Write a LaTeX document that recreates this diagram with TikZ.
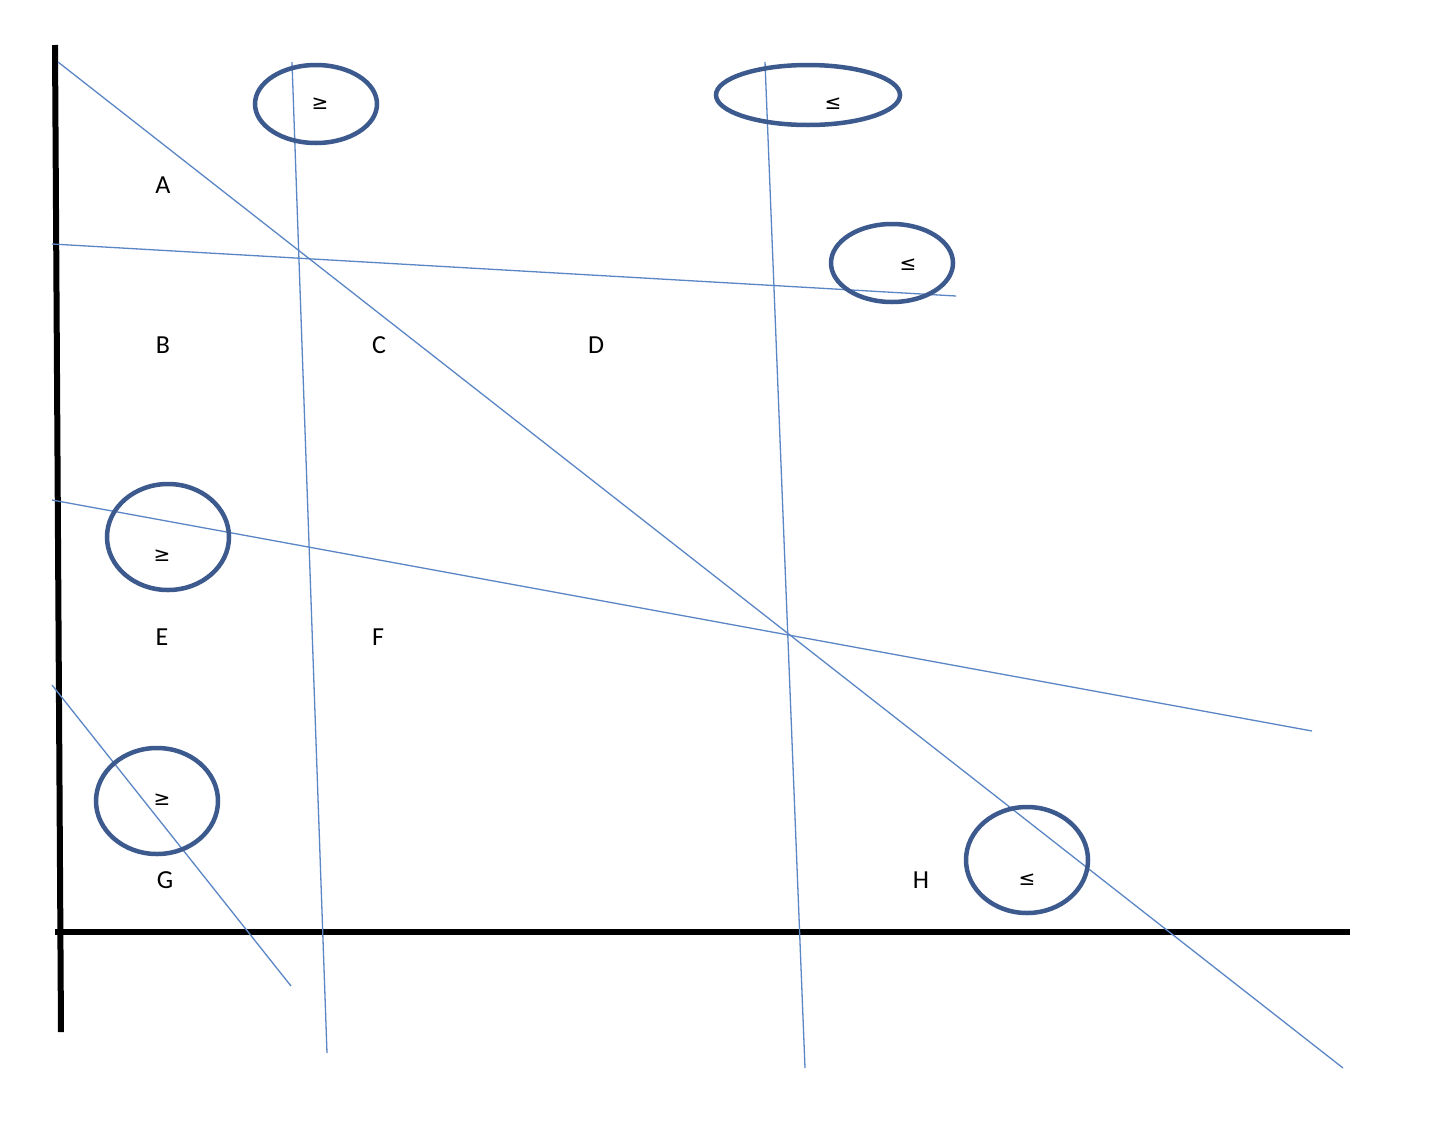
\documentclass[tikz,border=0pt]{standalone}
\usepackage{fontspec}
\setmainfont{Carlito}
\newfontfamily\symf{DejaVu Sans}
\definecolor{ln}{HTML}{5B86C6}
\definecolor{el}{HTML}{3C5A8E}
\tikzset{bl/.style={draw=ln,line width=1.3pt},ax/.style={draw=black,line width=6pt},
ell/.style={draw=el,line width=4.5pt},lab/.style={font=\fontsize{26}{26}\selectfont},sym/.style={font=\symf\fontsize{20}{20}\selectfont}}
\begin{document}
\begin{tikzpicture}[x=1pt,y=-1pt]
\useasboundingbox[fill=white] (0,0) rectangle (1450,1122);
\coordinate (a1) at (55,45); \coordinate (a2) at (61,1032);
\coordinate (a3) at (55,932); \coordinate (a4) at (1350,932);
\draw[ax] (a1) -- (a2); \draw[ax] (a3) -- (a4);
\coordinate (l1a) at (58,62); \coordinate (l1b) at (1343,1068);
\coordinate (l2a) at (292,62); \coordinate (l2b) at (327,1053);
\coordinate (l3a) at (765,62); \coordinate (l3b) at (805,1068);
\coordinate (l4a) at (52,244); \coordinate (l4b) at (956,296);
\coordinate (l5a) at (52,500); \coordinate (l5b) at (1312,731);
\coordinate (l6a) at (52,685); \coordinate (l6b) at (291,986);
\draw[bl] (l1a)--(l1b); \draw[bl] (l2a)--(l2b); \draw[bl] (l3a)--(l3b);
\draw[bl] (l4a)--(l4b); \draw[bl] (l5a)--(l5b); \draw[bl] (l6a)--(l6b);
\draw[ell] (316,104) ellipse [x radius=61,y radius=39];
\draw[ell] (808,95) ellipse [x radius=92,y radius=30];
\draw[ell] (892,263) ellipse [x radius=61,y radius=39];
\draw[ell] (168,537) ellipse [x radius=61,y radius=53];
\draw[ell] (157,801) ellipse [x radius=61,y radius=53];
\draw[ell] (1027,860) ellipse [x radius=61,y radius=53];
\node[sym] (s1) at (320,104) {≥};
\node[sym] (s2) at (833,104) {≤};
\node[sym] (s3) at (908,265) {≤};
\node[sym] (s4) at (162,556) {≥};
\node[sym] (s5) at (162,800) {≥};
\node[sym] (s6) at (1027,880) {≤};
\node[lab] (A) at (163,185) {A};
\node[lab] (B) at (163,345) {B};
\node[lab] (C) at (379,345) {C};
\node[lab] (D) at (596,345) {D};
\node[lab] (E) at (162,637) {E};
\node[lab] (F) at (378,637) {F};
\node[lab] (G) at (165,880) {G};
\node[lab] (H) at (921,880) {H};
\end{tikzpicture}
\end{document}
